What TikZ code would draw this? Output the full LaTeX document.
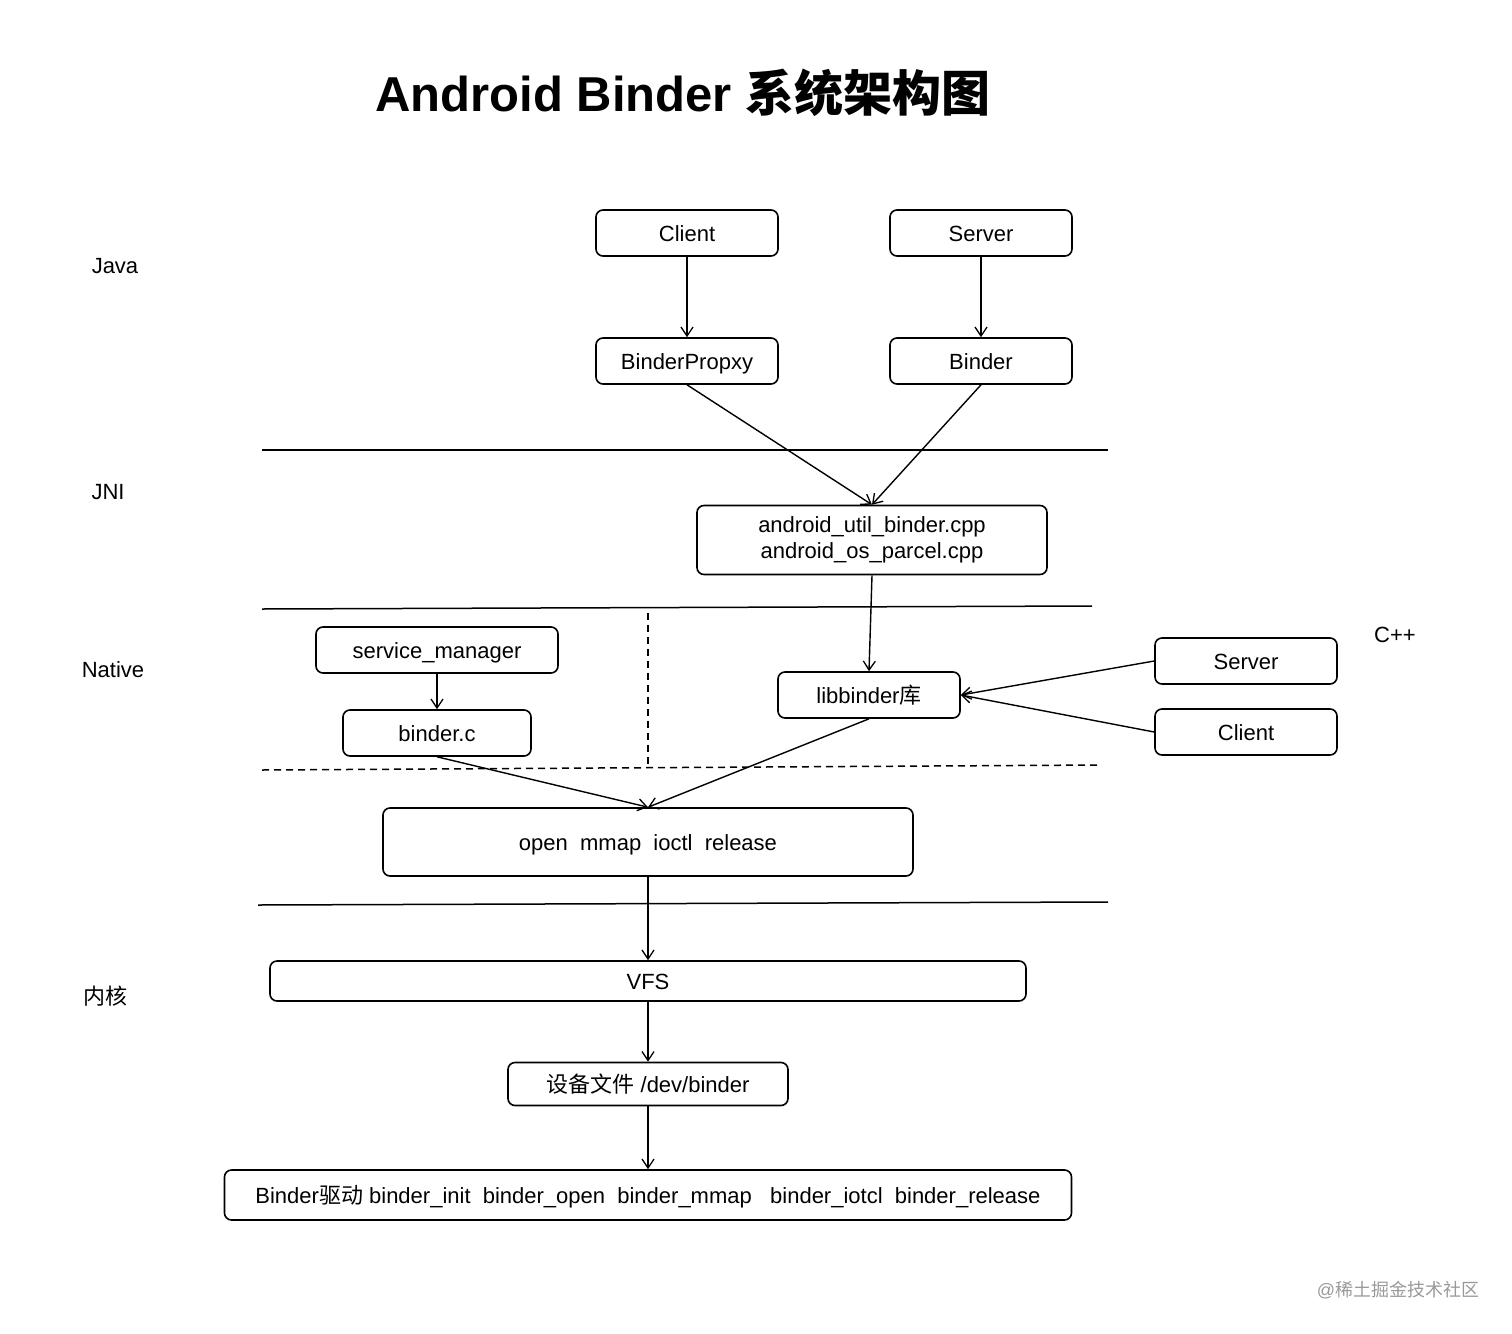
\documentclass[tikz,border=0pt]{standalone}
\usepackage{fontspec}
\setmainfont{Liberation Sans}
\newfontfamily\cjk{Noto Sans CJK SC}
\usetikzlibrary{arrows.meta}
\begin{document}
\begin{tikzpicture}[x=1pt,y=-1pt,
  box/.style={draw,rounded corners=7pt,line width=1.6pt,inner sep=0pt,text height=17pt,text depth=1pt,font=\fontsize{22}{26}\selectfont},
  lay/.style={font=\fontsize{22}{26}\selectfont},
  sep/.style={line width=1.5pt},
  arr/.style={line width=1.4pt,-{Straight Barb[length=9pt,width=12pt,line width=1.3pt]}}]
\useasboundingbox(0,0)rectangle(1512,1333);
\node(title)at(683,93){\fontsize{49}{56}\selectfont\bfseries Android Binder {\cjk\bfseries 系统架构图}};
% layers
\node[lay](lJava)at(115,266){Java};
\node[lay](lJNI)at(108,492){JNI};
\node[lay](lNat)at(113,670){Native};
\node[lay](lKer)at(105,996){\cjk 内核};
\node[lay](lCpp)at(1395,635){C++};
\draw[sep](262,450)--(1108,450);
\draw[sep](262,609)--(1092,606);
\draw[sep,dash pattern=on 7pt off 5pt](648,613)--(648,765);
\draw[sep,dash pattern=on 7pt off 5pt](262,770)--(1100,765);
\draw[sep](258,905)--(1108,902);
% boxes
\node[box,minimum width=182,minimum height=46](jC)at(687,233){Client};
\node[box,minimum width=182,minimum height=46](jS)at(981,233){Server};
\node[box,minimum width=182,minimum height=46](jP)at(687,361){BinderPropxy};
\node[box,minimum width=182,minimum height=46](jB)at(981,361){Binder};
\node[box,minimum width=350,minimum height=69,align=center,text height=,text depth=](jni)at(872,540){android\_util\_binder.cpp\\android\_os\_parcel.cpp};
\node[box,minimum width=242,minimum height=46](nSM)at(437,650){service\_manager};
\node[box,minimum width=188,minimum height=46](nBC)at(437,733){binder.c};
\node[box,minimum width=182,minimum height=46](nLib)at(869,695){libbinder{\cjk 库}};
\node[box,minimum width=182,minimum height=46](cS)at(1246,661){Server};
\node[box,minimum width=182,minimum height=46](cC)at(1246,732){Client};
\node[box,minimum width=530,minimum height=68](kOp)at(648,842){open\ \ mmap\ \ ioctl\ \ release};
\node[box,minimum width=756,minimum height=40](kVFS)at(648,981){VFS};
\node[box,minimum width=280,minimum height=43](kDev)at(648,1084){{\cjk 设备文件} /dev/binder};
\node[box,minimum width=847,minimum height=50](kDrv)at(648,1195){Binder{\cjk 驱动} binder\_init\ \ binder\_open\ \ binder\_mmap\ \ \ binder\_iotcl\ \ binder\_release};
% connectors
\draw[arr](jC)--(jP);
\draw[arr](jS)--(jB);
\draw[arr](jP.south)--(jni.north);
\draw[arr](jB.south)--(jni.north);
\draw[arr](jni.south)--(nLib.north);
\draw[arr](nSM)--(nBC);
\draw[arr](cS.west)--(nLib.east);
\draw[arr](cC.west)--(nLib.east);
\draw[arr](nBC.south)--(kOp.north);
\draw[arr](nLib.south)--(kOp.north);
\draw[arr](kOp)--(kVFS);
\draw[arr](kVFS)--(kDev);
\draw[arr](kDev)--(kDrv);
\node[text=black!40,font=\fontsize{18}{22}\selectfont](wm)at(1398,1290){@{\cjk 稀土掘金技术社区}};
\end{tikzpicture}
\end{document}
